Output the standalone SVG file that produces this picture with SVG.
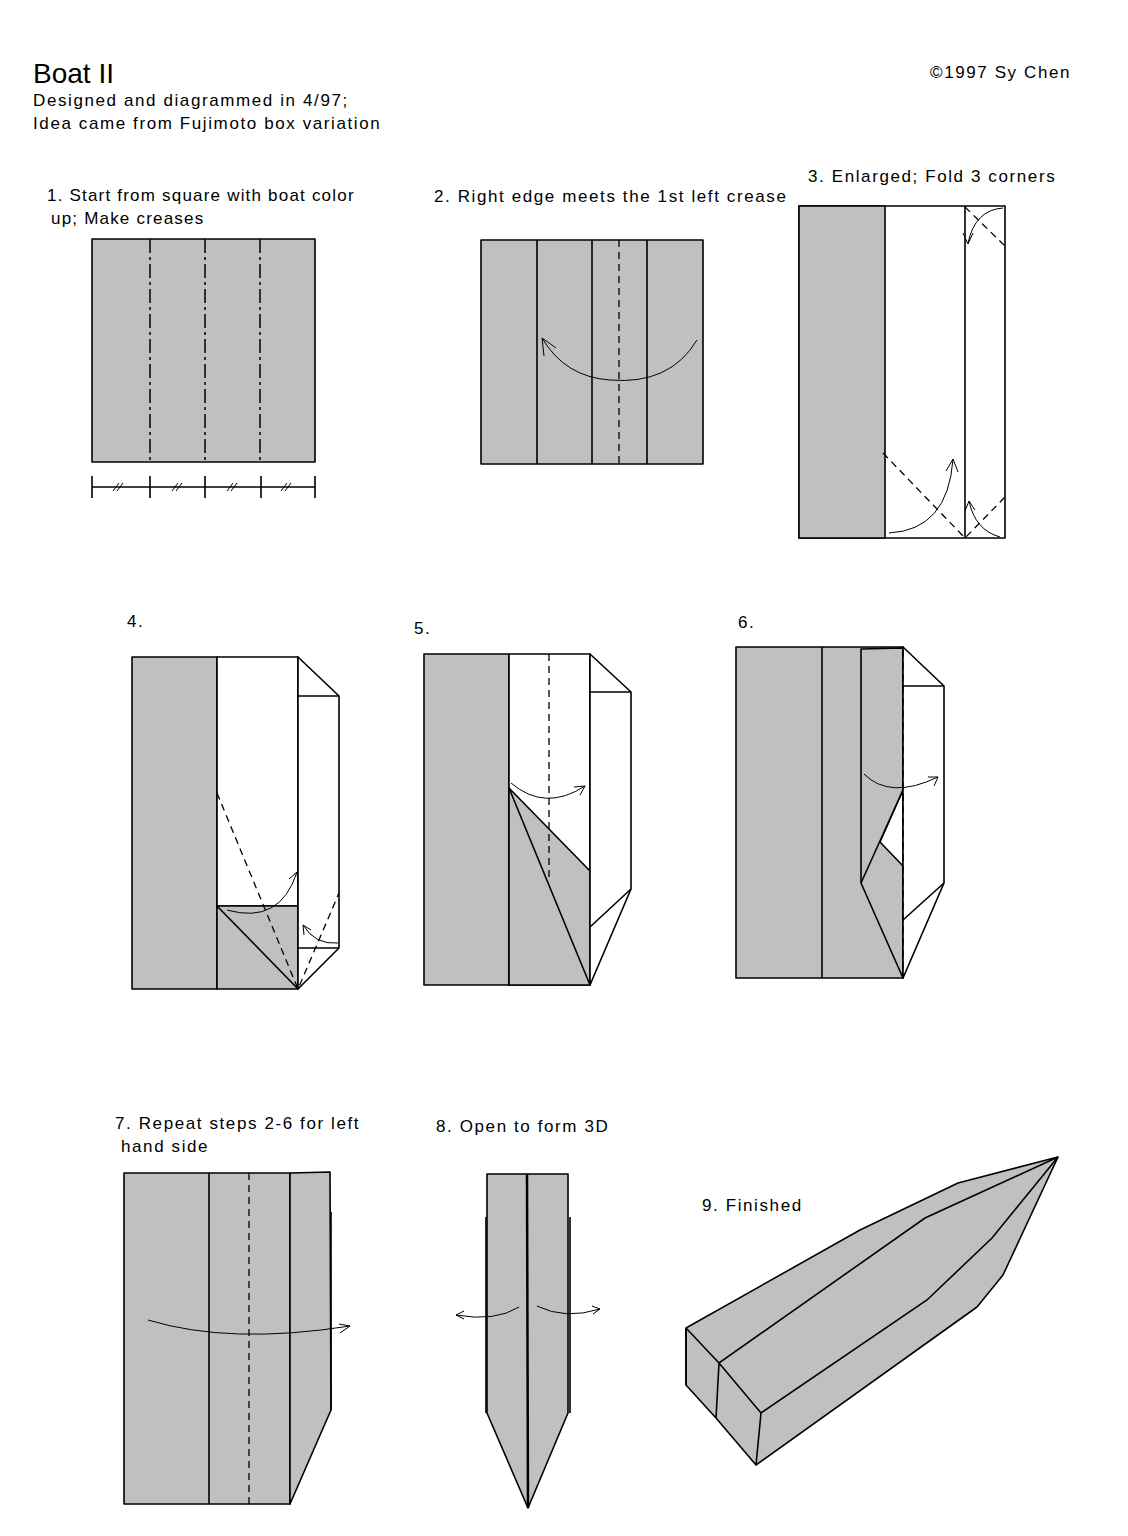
<svg xmlns="http://www.w3.org/2000/svg" width="1128" height="1536" viewBox="0 0 1128 1536">
<defs>
<style>
text{font-family:"Liberation Sans",Arial,sans-serif;font-size:17px;letter-spacing:1.6px;fill:#000}
.g{fill:#c0c0c0;stroke:#000;stroke-width:1.6;stroke-linejoin:round}
.w{fill:#fff;stroke:#000;stroke-width:1.6;stroke-linejoin:round}
.l{fill:none;stroke:#000;stroke-width:1.6}
.d{fill:none;stroke:#000;stroke-width:1.3;stroke-dasharray:7 5}
.dd{fill:none;stroke:#000;stroke-width:1.5;stroke-dasharray:14 4 3 4}
.a{fill:none;stroke:#000;stroke-width:1}
</style>
</defs>
<rect width="1128" height="1536" fill="#fff"/>
<text x="33" y="83" style="font-size:28px;letter-spacing:0">Boat II</text>
<text x="33" y="106">Designed and diagrammed in 4/97;</text>
<text x="33" y="129">Idea came from Fujimoto box variation</text>
<text x="930" y="78">©1997 Sy Chen</text>

<g id="step1">
<text x="47" y="201" style="letter-spacing:1.2px">1. Start from square with boat color</text>
<text x="51" y="224" style="letter-spacing:1.2px">up; Make creases</text>
<rect class="g" x="92" y="239" width="223" height="223"/>
<path class="dd" d="M150 239V462M205 239V462M260 239V462"/>
<path class="l" d="M92 487H315M92 476V498M150 476V498M205 476V498M261 476V498M315 476V498"/>
<path class="a" d="M113 491l6-8M117 491l6-8M172 491l6-8M176 491l6-8M227 491l6-8M231 491l6-8M281 491l6-8M285 491l6-8"/>
</g>

<g id="step2">
<text x="434" y="202">2. Right edge meets the 1st left crease</text>
<rect class="g" x="481" y="240" width="222" height="224"/>
<path class="l" d="M537 240V464M592 240V464M647 240V464"/>
<path class="d" d="M619 240V464"/>
<path class="a" d="M697 340Q670 385 610 380Q565 377 542 338M542 338l2 18M542 338l14 10"/>
</g>

<g id="step3">
<text x="808" y="182">3. Enlarged; Fold 3 corners</text>
<rect class="w" x="799" y="206" width="206" height="332"/>
<rect class="g" x="799" y="206" width="86" height="332"/>
<path class="l" d="M965 206V538"/>
<path class="d" d="M965 207L1005 246M883 453L965 538L1005 497"/>
<path class="a" d="M1003 208Q975 210 968 243M968 244l-5-11M968 244l5-11"/>
<path class="a" d="M889 533Q948 530 953 459M953 459l-7 12M953 459l5 13"/>
<path class="a" d="M1000 537Q975 530 969 501M969 501l-4 10M969 501l6 9"/>
</g>

<g id="step4">
<text x="127" y="627">4.</text>
<rect class="g" x="132" y="657" width="85" height="332"/>
<rect class="w" x="217" y="657" width="81" height="249"/>
<rect class="g" x="217" y="906" width="81" height="83"/>
<path class="l" d="M217 906L298 989"/>
<path class="w" d="M298 657L339 696L339 948L298 989Z"/>
<path class="l" d="M298 696H339M298 948H339"/>
<path class="d" d="M217 793L298 989L339 893"/>
<path class="a" d="M227 910Q280 925 297 872M297 872l-8 7M297 872l1 11"/>
<path class="a" d="M338 943Q315 945 303 925M303 925l1 10M303 925l8 5"/>
</g>

<g id="step5">
<text x="414" y="634">5.</text>
<rect class="g" x="424" y="654" width="85" height="331"/>
<rect class="w" x="509" y="654" width="81" height="331"/>
<path class="g" d="M509 788L590 871L590 985L509 985Z"/>
<path class="l" d="M509 788L590 985"/>
<path class="d" d="M549 654V877"/>
<path class="w" d="M590 654L631 692L631 889L590 985Z"/>
<path class="l" d="M590 692H631M590 927L631 889"/>
<path class="a" d="M511 783Q545 812 585 786M585 786l-11 1M585 786l-5 9"/>
</g>

<g id="step6">
<text x="738" y="628">6.</text>
<rect class="g" x="736" y="647" width="167" height="331"/>
<path class="l" d="M822 647V978"/>
<path class="g" d="M861 649L903 648L903 978L861 883Z"/>
<path class="w" d="M903 790L880 842L903 866Z"/>
<path class="l" d="M903 790L861 883"/>
<path class="w" d="M903 647L944 686L944 883L903 978Z"/>
<path class="l" d="M903 686H944M903 920L944 883"/>
<path class="d" d="M903 650V978"/>
<path class="a" d="M864 774Q890 800 938 777M938 777l-10 0M938 777l-4 9"/>
</g>

<g id="step7">
<text x="115" y="1129">7. Repeat steps 2-6 for left</text>
<text x="121" y="1152">hand side</text>
<rect class="g" x="124" y="1173" width="166" height="331"/>
<path class="l" d="M209 1173V1504"/>
<path class="d" d="M249 1173V1504"/>
<path class="g" d="M290 1173L330 1172L331 1410L290 1504Z"/>
<path class="l" d="M331 1212V1410"/>
<path class="a" d="M148 1320Q230 1345 350 1326M350 1326l-11-2M350 1326l-10 7"/>
</g>

<g id="step8">
<text x="436" y="1132">8. Open to form 3D</text>
<path class="g" d="M487 1174L568 1174L568 1413L528 1508L487 1413Z"/>
<path class="l" d="M527 1174L528 1508" style="stroke-width:2.5"/>
<path class="l" d="M486 1217V1413M570 1217V1413"/>
<path class="a" d="M519 1307Q495 1322 456 1315M456 1315l8-4M456 1315l8 4"/>
<path class="a" d="M537 1306Q565 1320 600 1309M600 1309l-8-3M600 1309l-7 5"/>
</g>

<g id="step9">
<text x="702" y="1211">9. Finished</text>
<path class="g" d="M686 1328L860 1230L958 1183L1058 1157L1003 1275L977 1307L756 1465L716 1418L686 1385Z"/>
<path class="l" d="M686 1328L719 1363L925 1218L1058 1157M719 1363L761 1413L927 1300L992 1238L1058 1157M761 1413L756 1465M719 1363L716 1418M686 1328V1385"/>
</g>
</svg>
